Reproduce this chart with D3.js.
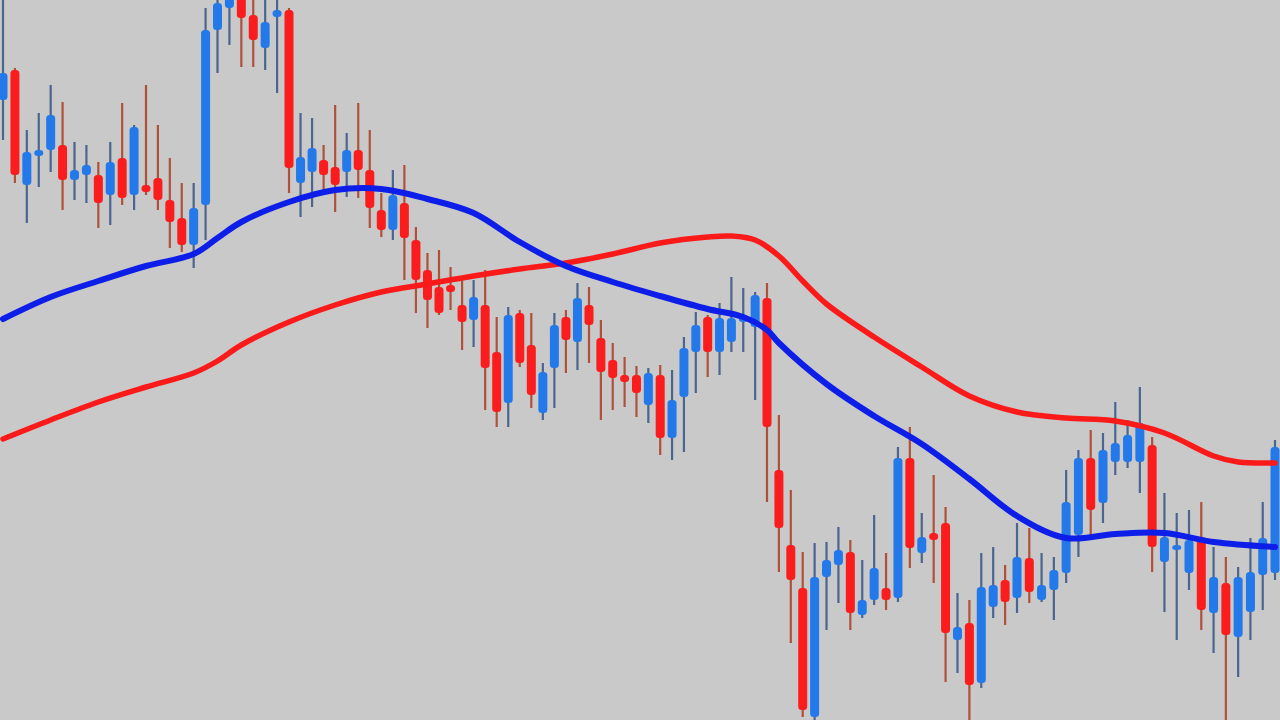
<!DOCTYPE html>
<html>
<head>
<meta charset="utf-8">
<script src="https://cdn.jsdelivr.net/npm/d3@7"></script>
<style>
  html, body { margin: 0; padding: 0; background: #c9c9c9; overflow: hidden; }
</style>
</head>
<body>
<script>
// OHLC, one entry per candle
const opens = [1.1900,1.1930,1.1815,1.1844,1.1850,1.1855,1.1820,1.1825,1.1825,1.1805,1.1842,1.1805,1.1815,1.1822,1.1800,1.1782,1.1755,1.1795,1.1970,1.1992,1.2005,1.1985,1.1952,1.1983,1.1990,
  1.1817,1.1828,1.1840,1.1833,1.1828,1.1850,1.1830,1.1790,1.1770,1.1797,1.1760,1.1730,1.1713,1.1715,1.1695,1.1680,1.1695,1.1648,1.1597,1.1687,1.1655,1.1587,1.1632,1.1683,1.1658,1.1695,
  1.1662,1.1640,1.1625,1.1625,1.1595,1.1625,1.1562,1.1603,1.1648,1.1683,1.1648,1.1658,1.1678,1.1673,1.1702,1.1530,
  1.1455,1.1412,1.1283,1.1423,1.1435,1.1448,1.1385,1.1400,1.1412,1.1402,1.1542,1.1447,1.1467,1.1477,1.1360,1.1377,1.1317,1.1393,1.1420,1.1402,
  1.1442,1.1400,1.1410,1.1427,1.1465,1.1542,1.1497,1.1538,1.1538,1.1538,1.1555,1.1438,1.1450,1.1427,1.1463,1.1387,1.1417,1.1363,1.1388,1.1425,1.1427];
const highs = [1.2010,1.1932,1.1870,1.1887,1.1915,1.1898,1.1858,1.1855,1.1838,1.1858,1.1897,1.1875,1.1915,1.1875,1.1842,1.1817,1.1817,1.1992,1.2010,1.2015,1.2015,1.2005,1.2005,1.2005,1.1992,
  1.1887,1.1882,1.1855,1.1895,1.1867,1.1897,1.1870,1.1807,1.1830,1.1835,1.1773,1.1747,1.1750,1.1733,1.1720,1.1720,1.1730,1.1683,1.1693,1.1690,1.1687,1.1637,1.1687,1.1690,1.1717,1.1713,
  1.1680,1.1657,1.1643,1.1634,1.1632,1.1635,1.1630,1.1663,1.1688,1.1685,1.1697,1.1723,1.1712,1.1708,1.1717,1.1585,
  1.1510,1.1448,1.1457,1.1458,1.1473,1.1460,1.1440,1.1485,1.1447,1.1553,1.1573,1.1487,1.1525,1.1493,1.1407,1.1400,1.1447,1.1453,1.1435,1.1477,
  1.1472,1.1447,1.1443,1.1530,1.1550,1.1570,1.1567,1.1598,1.1580,1.1613,1.1563,1.1507,1.1487,1.1490,1.1498,1.1453,1.1443,1.1433,1.1462,1.1498,1.1560];
const lows = [1.1860,1.1817,1.1777,1.1813,1.1828,1.1790,1.1800,1.1797,1.1772,1.1775,1.1795,1.1790,1.1805,1.1790,1.1752,1.1748,1.1732,1.1760,1.1927,1.1955,1.1933,1.1933,1.1930,1.1907,1.1807,
  1.1783,1.1793,1.1810,1.1788,1.1803,1.1802,1.1772,1.1763,1.1760,1.1720,1.1687,1.1672,1.1685,1.1690,1.1650,1.1653,1.1590,1.1573,1.1573,1.1633,1.1592,1.1580,1.1592,1.1627,1.1630,1.1637,
  1.1580,1.1590,1.1593,1.1583,1.1577,1.1545,1.1540,1.1548,1.1607,1.1623,1.1625,1.1648,1.1648,1.1600,1.1498,1.1428,
  1.1357,1.1283,1.1275,1.1370,1.1397,1.1370,1.1382,1.1395,1.1390,1.1398,1.1432,1.1437,1.1417,1.1318,1.1327,1.1275,1.1312,1.1382,1.1375,1.1387,
  1.1397,1.1398,1.1380,1.1417,1.1443,1.1465,1.1477,1.1525,1.1532,1.1507,1.1428,1.1388,1.1360,1.1410,1.1370,1.1347,1.1275,1.1323,1.1360,1.1390,1.1420];
const closes = [1.1927,1.1825,1.1848,1.1850,1.1885,1.1820,1.1830,1.1835,1.1797,1.1838,1.1802,1.1873,1.1808,1.1800,1.1778,1.1755,1.1792,1.1970,1.1997,1.2005,1.1982,1.1960,1.1978,1.1990,1.1832,
  1.1843,1.1852,1.1825,1.1815,1.1850,1.1830,1.1792,1.1770,1.1805,1.1762,1.1720,1.1700,1.1687,1.1708,1.1678,1.1703,1.1632,1.1588,1.1685,1.1637,1.1605,1.1628,1.1675,1.1660,1.1702,1.1675,
  1.1628,1.1622,1.1618,1.1607,1.1627,1.1562,1.1600,1.1652,1.1675,1.1648,1.1682,1.1682,1.1685,1.1705,1.1573,1.1472,
  1.1420,1.1290,1.1423,1.1440,1.1450,1.1387,1.1400,1.1432,1.1400,1.1542,1.1452,1.1463,1.1460,1.1367,1.1373,1.1315,1.1413,1.1415,1.1398,1.1443,
  1.1408,1.1415,1.1430,1.1498,1.1542,1.1490,1.1550,1.1557,1.1565,1.1577,1.1453,1.1463,1.1455,1.1460,1.1390,1.1423,1.1365,1.1423,1.1428,1.1462,1.1553];

// moving averages, sampled at candle indices
const fastIdx = [0,4,8,12,16,18,20,24,28,32,36,40,44,48,52,56,60,63,65,66,70,74,78,82,86,90,94,98,102,107];
const fastMA  = [1.1681,1.1703,1.1719,1.1734,1.1746,1.1762,1.1778,1.1798,1.1810,1.1811,1.1801,1.1787,1.1758,1.1734,1.1718,1.1704,1.1691,1.1683,1.1670,1.1657,1.1616,1.1584,1.1556,1.1521,1.1484,1.1462,1.1466,1.1467,1.1458,1.1453];
const slowIdx = [0,4,8,12,16,18,20,24,28,32,36,40,44,48,52,56,60,62,64,66,68,70,74,78,82,86,90,94,98,102,104,107];
const slowMA  = [1.1561,1.1580,1.1598,1.1613,1.1627,1.1639,1.1655,1.1678,1.1695,1.1708,1.1716,1.1724,1.1731,1.1737,1.1746,1.1757,1.1763,1.1764,1.1760,1.1744,1.1719,1.1696,1.1663,1.1633,1.1604,1.1588,1.1582,1.1579,1.1567,1.1544,1.1538,1.1537];

const W = 1280, H = 720;
const svg = d3.select("body").append("svg")
    .attr("width", W)
    .attr("height", H);

svg.append("rect").attr("width", W).attr("height", H).attr("fill", "#c9c9c9");

// candle spacing in the picture is not quite even, so the index scale is piecewise
const x = d3.scaleLinear()
    .domain([0, 24, 50, 65, 86, opens.length - 1])
    .range([3, 289, 589, 767, 1017, 1275]);
const y = d3.scaleLinear().domain([1.128, 1.2]).range([H, 0]);

const candles = opens.map((o, i) => ({ i: i, o: o, h: highs[i], l: lows[i], c: closes[i] }));

const g = svg.selectAll(".candle")
    .data(candles)
    .enter()
    .append("g")
    .attr("class", "candle");

g.append("line")
    .attr("x1", d => x(d.i)).attr("x2", d => x(d.i))
    .attr("y1", d => y(d.h)).attr("y2", d => y(d.l))
    .attr("stroke", d => d.c >= d.o ? "#4a6590" : "#b0503a")
    .attr("stroke-width", 2.2);

g.append("rect")
    .attr("x", d => x(d.i) - 4.5)
    .attr("y", d => y(Math.max(d.o, d.c)))
    .attr("width", 9)
    .attr("height", d => Math.max(4, Math.abs(y(d.o) - y(d.c))))
    .attr("rx", 3.5)
    .attr("fill", d => d.c >= d.o ? "#2479ea" : "#fb1d1d");

const line = d3.line()
    .x(d => x(d[0]))
    .y(d => y(d[1]))
    .curve(d3.curveCatmullRom);

svg.append("path")
    .datum(slowIdx.map((k, j) => [k, slowMA[j]]))
    .attr("d", line)
    .attr("fill", "none")
    .attr("stroke", "#fb1a1a")
    .attr("stroke-width", 5.5)
    .attr("stroke-linecap", "round");

svg.append("path")
    .datum(fastIdx.map((k, j) => [k, fastMA[j]]))
    .attr("d", line)
    .attr("fill", "none")
    .attr("stroke", "#0d1ee8")
    .attr("stroke-width", 6)
    .attr("stroke-linecap", "round");
</script>
</body>
</html>
